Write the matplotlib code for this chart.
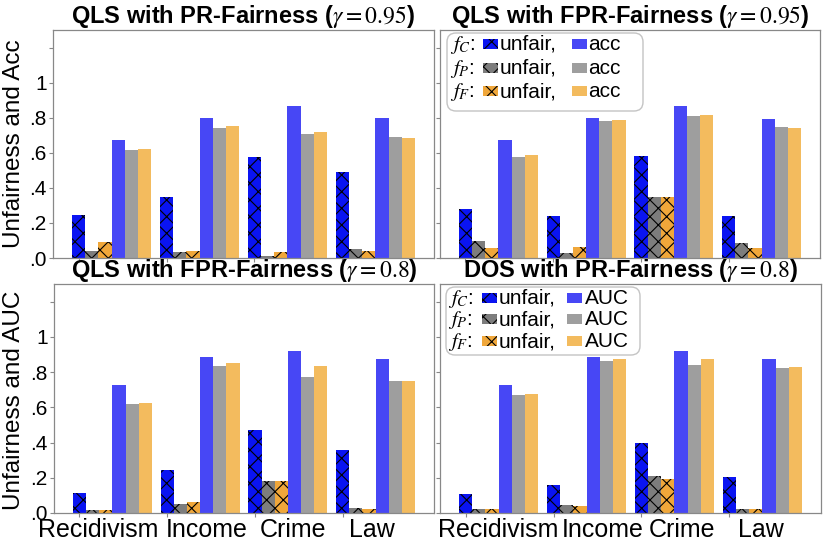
import matplotlib
matplotlib.use("Agg")
import matplotlib.pyplot as plt
import numpy as np
from matplotlib.patches import FancyBboxPatch, Rectangle
from matplotlib.transforms import IdentityTransform

W, H = 832, 547

DATASETS = ["Recidivism", "Income", "Crime", "Law"]
Y_TICKS = [0.0, 0.2, 0.4, 0.6, 0.8, 1.0, 1.2]
Y_TICKLABELS = [".0", ".2", ".4", ".6", ".8", "1", ""]

# rows: f_C, f_P, f_F ; columns: datasets
qls_pr95_unfair = [[0.246, 0.347, 0.575, 0.490],
                   [0.040, 0.033, 0.011, 0.053],
                   [0.090, 0.040, 0.033, 0.040]]
qls_pr95_acc = [[0.674, 0.800, 0.865, 0.796],
                [0.617, 0.739, 0.707, 0.691],
                [0.623, 0.750, 0.718, 0.687]]

qls_fpr95_unfair = [[0.278, 0.240, 0.583, 0.242],
                    [0.099, 0.027, 0.345, 0.086],
                    [0.059, 0.065, 0.345, 0.055]]
qls_fpr95_acc = [[0.674, 0.800, 0.865, 0.794],
                 [0.575, 0.779, 0.808, 0.745],
                 [0.585, 0.789, 0.815, 0.743]]

qls_fpr80_unfair = [[0.113, 0.243, 0.474, 0.355],
                    [0.015, 0.051, 0.183, 0.030],
                    [0.015, 0.060, 0.179, 0.025]]
qls_fpr80_auc = [[0.726, 0.887, 0.917, 0.874],
                 [0.619, 0.834, 0.772, 0.747],
                 [0.626, 0.849, 0.836, 0.751]]

dos_pr80_unfair = [[0.108, 0.157, 0.400, 0.202],
                   [0.025, 0.043, 0.211, 0.025],
                   [0.025, 0.042, 0.194, 0.025]]
dos_pr80_auc = [[0.726, 0.887, 0.917, 0.872],
                [0.670, 0.864, 0.838, 0.821],
                [0.674, 0.872, 0.872, 0.828]]

UNFAIR_COLORS = ["#0a14f2", "#7d7d7d", "#f0a73a"]
PERF_COLORS = ["#4747f5", "#9e9e9e", "#f3bb5e"]
FUNCS = ["f_C", "f_P", "f_F"]

plt.rcParams["font.family"] = ["Liberation Sans", "DejaVu Sans"]
plt.rcParams["mathtext.fontset"] = "stix"
plt.rcParams["hatch.linewidth"] = 0.8
plt.rcParams["hatch.color"] = "black"

fig = plt.figure(figsize=(W / 100, H / 100), dpi=100)


def add_ax(x0, y0, x1, y1):
    return fig.add_axes([x0 / W, 1 - y1 / H, (x1 - x0) / W, (y1 - y0) / H])


BAR_W = 0.15


def draw_panel(ax, title, unfair, perf, show_y, label_offsets):
    x = np.arange(len(DATASETS))
    for k in range(3):
        ax.bar(x + k * BAR_W, unfair[k], BAR_W, color=UNFAIR_COLORS[k],
               edgecolor="black", linewidth=0, hatch="xx")
    for k in range(3):
        ax.bar(x + (k + 3) * BAR_W, perf[k], BAR_W, color=PERF_COLORS[k],
               linewidth=0)
    ax.set_xlim(-0.29, 4.04)
    ax.set_ylim(0, 1.3)
    ax.set_yticks(Y_TICKS)
    ax.set_yticklabels(Y_TICKLABELS if show_y else [])
    ax.set_xticks(x)
    ax.set_xticklabels([])
    if label_offsets is not None:
        ax.set_xticks(x + np.array(label_offsets), minor=True)
        ax.set_xticklabels(DATASETS, minor=True, fontsize=18)
    ax.tick_params(axis="x", which="minor", length=0, pad=3.5)
    ax.tick_params(axis="both", which="major", length=3, width=0.8,
                   color="#888888", labelsize=15, pad=1.5)
    for s in ax.spines.values():
        s.set_color("#888888")
        s.set_linewidth(0.9)
    ax.set_title(title, fontsize=17, fontweight="bold", pad=4)


ax_tl = add_ax(53, 30, 434, 258)
ax_tr = add_ax(440, 30, 820, 258)
ax_bl = add_ax(54, 284, 434, 513)
ax_br = add_ax(440, 284, 821, 513)

draw_panel(ax_tl, r"QLS with PR-Fairness ($\gamma = 0.95$)",
           qls_pr95_unfair, qls_pr95_acc, True, None)
draw_panel(ax_tr, r"QLS with FPR-Fairness ($\gamma = 0.95$)",
           qls_fpr95_unfair, qls_fpr95_acc, False, None)
draw_panel(ax_bl, r"QLS with FPR-Fairness ($\gamma = 0.8$)",
           qls_fpr80_unfair, qls_fpr80_auc, True, [0.215, 0.45, 0.43, 0.33])
draw_panel(ax_br, r"DOS with PR-Fairness ($\gamma = 0.8$)",
           dos_pr80_unfair, dos_pr80_auc, False, [0.37, 0.56, 0.46, 0.36])

fig.text(14 / W, 1 - 144 / H, "Unfairness and Acc", rotation=90,
         ha="center", va="center", fontsize=17.5)
fig.text(14 / W, 1 - 400 / H, "Unfairness and AUC", rotation=90,
         ha="center", va="center", fontsize=17.5)


def draw_key(frame, rows_y, xs, word):
    # hand-made key: frame and item positions in figure pixels from top-left
    x0, y0, x1, y1 = frame
    fig.add_artist(FancyBboxPatch((x0, H - y1), x1 - x0, y1 - y0,
                                  boxstyle="round,pad=0,rounding_size=9",
                                  transform=IdentityTransform(),
                                  facecolor="white", edgecolor="#c4c4c4",
                                  linewidth=1))
    xf, xp1, xu, xp2, xw = xs
    for k, yc in enumerate(rows_y):
        fig.text(xf / W, 1 - (yc + 6) / H, f"${FUNCS[k]}$:", ha="left",
                 va="baseline", fontsize=15)
        fig.add_artist(Rectangle((xp1, H - yc - 5), 15, 10,
                                 transform=IdentityTransform(),
                                 facecolor=UNFAIR_COLORS[k], edgecolor="black",
                                 linewidth=0, hatch="xx"))
        fig.text(xu / W, 1 - (yc + 6) / H, "unfair,", ha="left",
                 va="baseline", fontsize=15)
        fig.add_artist(Rectangle((xp2, H - yc - 5), 15, 10,
                                 transform=IdentityTransform(),
                                 facecolor=PERF_COLORS[k], linewidth=0))
        fig.text(xw / W, 1 - (yc + 6) / H, word, ha="left",
                 va="baseline", fontsize=15)


draw_key((447, 33, 643, 111), [44, 68, 91], (450, 483, 500, 572, 588), "acc")
draw_key((446, 287, 640, 355), [298, 319, 341], (448, 482, 499, 567, 585), "AUC")

fig.savefig("out.png", dpi=100)
